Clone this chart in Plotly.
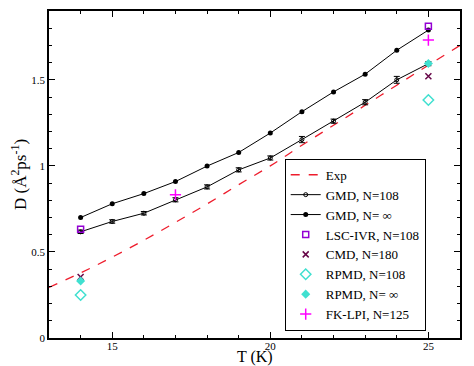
import plotly.graph_objects as go

# ---- data ----
T_gmd = [14, 15, 16, 17, 18, 19, 20, 21, 22, 23, 24, 25]
D_gmd108 = [0.617, 0.677, 0.725, 0.803, 0.878, 0.977, 1.046, 1.153, 1.260, 1.370, 1.500, 1.594]
E_gmd108 = [0.010, 0.010, 0.010, 0.012, 0.012, 0.012, 0.012, 0.018, 0.012, 0.015, 0.020, 0.012]
D_gmdinf = [0.700, 0.780, 0.839, 0.909, 0.999, 1.078, 1.191, 1.315, 1.430, 1.533, 1.672, 1.789]

T_exp = [13, 14, 15, 16, 17, 18, 19, 20, 21, 22, 23, 24, 25, 26]
D_exp = [0.294, 0.378, 0.470, 0.568, 0.672, 0.779, 0.891, 1.000, 1.120, 1.236, 1.352, 1.469, 1.585, 1.700]

T_lsc = [14, 25]
D_lsc = [0.632, 1.812]
T_cmd = [14, 25]
D_cmd = [0.354, 1.521]
T_rpmd108 = [14, 25]
D_rpmd108 = [0.250, 1.383]
T_rpmdinf = [14, 25]
D_rpmdinf = [0.331, 1.595]
T_fk = [17, 25]
D_fk = [0.832, 1.731]

X_TITLE = "T (K)"
Y_TITLE = "D (Å<sup>2</sup>ps<sup>-1</sup>)"

SERIF = "Liberation Serif, Times New Roman, serif"

fig = go.Figure()
fig.add_trace(go.Scatter(x=T_exp, y=D_exp, mode="lines", name="Exp",
                         line=dict(color="#ee1c2c", width=1.3, dash="dash", shape="spline")))
fig.add_trace(go.Scatter(x=T_gmd, y=D_gmd108, mode="lines+markers", name="GMD, N=108",
                         line=dict(color="black", width=1),
                         marker=dict(symbol="circle-open", size=4, color="black", line=dict(width=1)),
                         error_y=dict(type="data", array=E_gmd108, color="black", thickness=1, width=3)))
fig.add_trace(go.Scatter(x=T_gmd, y=D_gmdinf, mode="lines+markers", name="GMD, N= ∞",
                         line=dict(color="black", width=1),
                         marker=dict(symbol="circle", size=5, color="black")))
fig.add_trace(go.Scatter(x=T_lsc, y=D_lsc, mode="markers", name="LSC-IVR, N=108",
                         marker=dict(symbol="square-open", size=6, color="#9400d3", line=dict(width=1.5))))
fig.add_trace(go.Scatter(x=T_cmd, y=D_cmd, mode="markers", name="CMD, N=180",
                         marker=dict(symbol="x-thin", size=6, color="#670748", line=dict(width=1.5, color="#670748"))))
fig.add_trace(go.Scatter(x=T_rpmd108, y=D_rpmd108, mode="markers", name="RPMD, N=108",
                         marker=dict(symbol="diamond-open", size=8, color="#40e0d0", line=dict(width=1.5))))
fig.add_trace(go.Scatter(x=T_rpmdinf, y=D_rpmdinf, mode="markers", name="RPMD, N= ∞",
                         marker=dict(symbol="diamond", size=7, color="#40e0d0")))
fig.add_trace(go.Scatter(x=T_fk, y=D_fk, mode="markers", name="FK-LPI, N=125",
                         marker=dict(symbol="cross-thin", size=8, color="#ff00ff", line=dict(width=1.5, color="#ff00ff"))))

axis_common = dict(
    showgrid=False, zeroline=False, showline=True, linecolor="black", linewidth=1.5,
    mirror="ticks", ticks="inside", ticklen=6, tickwidth=1, tickcolor="black",
    tickfont=dict(family=SERIF, size=11, color="black"), automargin=False,
)
fig.update_xaxes(range=[13, 26], dtick=5, tick0=15, ticklabelstandoff=-3,
                 minor=dict(dtick=1, ticks="inside", ticklen=3, tickcolor="black"),
                 **axis_common)
fig.update_yaxes(range=[0, 1.9], dtick=0.5, tick0=0,
                 minor=dict(dtick=0.1, ticks="inside", ticklen=3, tickcolor="black"),
                 title=dict(text=Y_TITLE, font=dict(family=SERIF, size=17, color="black"), standoff=8),
                 **axis_common)

# x-axis title placed as an annotation so it sits below the tick labels
fig.add_annotation(text=X_TITLE, xref="paper", yref="paper", x=0.5, y=0,
                   xanchor="center", yanchor="middle", yshift=-19, showarrow=False,
                   font=dict(family=SERIF, size=16, color="black"))

# the page adds an 8px body margin, so the figure is 8px smaller and its top/left margins shifted
fig.update_layout(
    width=466, height=358,
    margin=dict(l=41, r=13.5, t=3, b=28),
    paper_bgcolor="white", plot_bgcolor="white",
    showlegend=True,
    legend=dict(x=0.5735, y=0.022, xanchor="left", yanchor="bottom",
                bgcolor="white", bordercolor="black", borderwidth=1,
                font=dict(family=SERIF, size=13, color="black"),
                tracegroupgap=0, itemwidth=30),
)

fig.write_html("out.html")
